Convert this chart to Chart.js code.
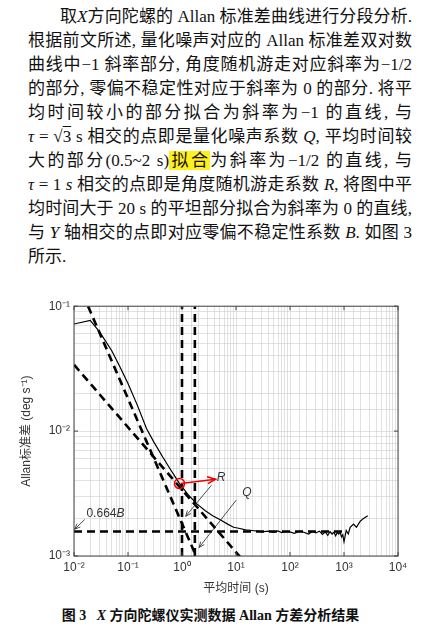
<!DOCTYPE html>
<html><head><meta charset="utf-8">
<script src="https://cdn.jsdelivr.net/npm/chart.js@4"></script>
<style>
html,body{margin:0;padding:0;background:#fff;width:421px;height:637px;overflow:hidden}
#txt{position:absolute;left:28px;top:5px;width:384px;font-family:"Liberation Serif","Noto Sans CJK SC",serif;font-size:17px;line-height:24px;color:#111}
#txt div{text-align:justify;text-align-last:justify;white-space:nowrap}
#txt div.last{text-align-last:left}
.hl{background:#ffef1a}
i{font-style:italic}
#cv{position:absolute;left:15px;top:295px}
#cap{position:absolute;left:0;width:421px;top:604px;text-align:center;font-family:"Liberation Serif","Noto Sans CJK SC",serif;font-weight:bold;font-size:14px;color:#111}
</style></head><body>
<div id="txt">
<div style="padding-left:32px">取<i>X</i>方向陀螺的 Allan 标准差曲线进行分段分析.</div>
<div>根据前文所述, 量化噪声对应的 Allan 标准差双对数</div>
<div>曲线中−1 斜率部分, 角度随机游走对应斜率为−1/2</div>
<div>的部分, 零偏不稳定性对应于斜率为 0 的部分. 将平</div>
<div>均时间较小的部分拟合为斜率为−1 的直线, 与</div>
<div><i>τ</i> = √<span style="text-decoration:overline">3</span> s 相交的点即是量化噪声系数 <i>Q</i>, 平均时间较</div>
<div>大的部分(0.5~2 s)<span class="hl">拟合</span>为斜率为−1/2 的直线, 与</div>
<div><i>τ</i> = 1 <i>s</i> 相交的点即是角度随机游走系数 <i>R</i>, 将图中平</div>
<div>均时间大于 20 s 的平坦部分拟合为斜率为 0 的直线,</div>
<div>与 <i>Y</i> 轴相交的点即对应零偏不稳定性系数 <i>B</i>. 如图 3</div>
<div class="last">所示.</div>
</div>
<canvas id="cv" width="400" height="305" style="width:400px;height:305px"></canvas>
<div id="cap">图 3 &nbsp;&nbsp;<i>X</i> 方向陀螺仪实测数据 Allan 方差分析结果</div>
<script>
const tau=[0.01,0.02,0.03,0.05,0.07,0.1,0.15,0.22,0.3,0.44,0.6,0.9,1.3,1.84,2.7,3.7,5,7,9,11.8,15,20,25,30,40,50,60,70,80,100,120,150,180,220,260,300,350,400,450,500,550,600,650,700,750,800,850,900,950,1000,1100,1200,1300,1500,1700,2000,2300,2750];
const sigma=[0.072,0.077,0.062,0.044,0.033,0.024,0.016,0.0105,0.0082,0.0062,0.005,0.0038,0.0031,0.00264,0.0023,0.0021,0.00196,0.0018,0.0017,0.00166,0.00162,0.0016,0.00158,0.00156,0.00158,0.00155,0.00159,0.00154,0.00157,0.00156,0.00152,0.00158,0.00155,0.0015,0.00157,0.00153,0.00158,0.00149,0.00156,0.00146,0.00157,0.0015,0.00155,0.00145,0.00154,0.0015,0.00155,0.00142,0.00148,0.0013,0.0016,0.0015,0.0017,0.0018,0.0017,0.0019,0.002,0.0021];
const fitQx=[0.0182,1.82], fitQy=[0.1,0.001];
const fitRx=[0.01,12.5], fitRy=[0.034,0.00096];
const fitBx=[0.01,1000], fitBy=[0.00157,0.00157];
const vline1x=[1,1], vline2x=[1.73,1.73], vlineY=[0.001,0.1];
const xTicks=[0.01,0.1,1,10,100,1000,10000], xTickLabels=["10⁻²","10⁻¹","10⁰","10¹","10²","10³","10⁴"];
const yTicks=[0.001,0.01,0.1], yTickLabels=["10⁻³","10⁻²","10⁻¹"];
const pts=(xs,ys)=>xs.map((x,i)=>({x,y:ys[i]}));
const dash={borderColor:'#000',borderWidth:2.6,borderDash:[8,5],pointRadius:0,showLine:true,fill:false};
const arrow=(ctx,x1,y1,x2,y2,col,w,h)=>{ctx.strokeStyle=col;ctx.lineWidth=w;ctx.beginPath();ctx.moveTo(x1,y1);ctx.lineTo(x2,y2);ctx.stroke();
 const a=Math.atan2(y2-y1,x2-x1);ctx.beginPath();ctx.moveTo(x2-h*Math.cos(a-0.4),y2-h*Math.sin(a-0.4));ctx.lineTo(x2,y2);ctx.lineTo(x2-h*Math.cos(a+0.4),y2-h*Math.sin(a+0.4));ctx.stroke();};
const deco={id:'deco',afterDraw(c){const ctx=c.ctx,X=c.scales.x,Y=c.scales.y,a=c.chartArea;ctx.save();
 ctx.strokeStyle='#444';ctx.lineWidth=1;ctx.strokeRect(a.left,a.top,a.right-a.left,a.bottom-a.top);
 xTicks.forEach(v=>{const p=X.getPixelForValue(v);ctx.beginPath();ctx.moveTo(p,a.bottom);ctx.lineTo(p,a.bottom-4);ctx.moveTo(p,a.top);ctx.lineTo(p,a.top+4);ctx.stroke();});
 yTicks.forEach(v=>{const p=Y.getPixelForValue(v);ctx.beginPath();ctx.moveTo(a.left,p);ctx.lineTo(a.left+4,p);ctx.moveTo(a.right,p);ctx.lineTo(a.right-4,p);ctx.stroke();});
 const px=v=>X.getPixelForValue(v),py=v=>Y.getPixelForValue(v);
 ctx.strokeStyle='#e00';ctx.lineWidth=1.5;ctx.beginPath();ctx.arc(px(0.9),py(0.0038),5,0,Math.PI*2);ctx.stroke();
 arrow(ctx,px(0.95),py(0.0038),px(4.2),py(0.00412),'#e00',1.5,9);
 ctx.fillStyle='#333';ctx.font='italic 12px "Liberation Sans"';ctx.textBaseline='middle';
 ctx.fillText('R',px(4.4),py(0.0042));ctx.fillText('Q',px(13),py(0.0032));
 ctx.font='12px "Liberation Sans"';ctx.fillText('0.664',px(0.017),py(0.0022));
 const w=ctx.measureText('0.664').width;ctx.font='italic 12px "Liberation Sans"';ctx.fillText('B',px(0.017)+w,py(0.0022));
 arrow(ctx,px(3.5),py(0.00368),px(1.17),py(0.00208),'#222',0.8,6);
 arrow(ctx,px(10.1),py(0.0028),px(2.07),py(0.00117),'#222',0.8,6);
 arrow(ctx,px(0.0158),py(0.00196),px(0.0103),py(0.00164),'#222',0.8,6);
 ctx.restore();}};
new Chart(document.getElementById('cv'),{type:'scatter',
 data:{datasets:[
  {data:pts(tau,sigma),borderColor:'#000',borderWidth:1.2,pointRadius:0,showLine:true,fill:false},
  {...dash,data:pts(fitQx,fitQy)},{...dash,data:pts(fitRx,fitRy)},{...dash,data:pts(fitBx,fitBy)},
  {...dash,data:pts(vline1x,vlineY)},{...dash,data:pts(vline2x,vlineY)}]},
 options:{responsive:false,animation:false,devicePixelRatio:1,
  layout:{padding:{top:10,right:17,left:0,bottom:0}},
  plugins:{legend:{display:false},tooltip:{enabled:false}},
  scales:{
   x:{type:'logarithmic',min:0.01,max:10000,
     afterFit(s){s.height=44;},
     afterBuildTicks(s){s.ticks=s.ticks.filter(t=>t.value<=10000);},
     grid:{color:'#ccc',lineWidth:0.6,borderDash:[2,2],drawTicks:false},border:{display:false},
     ticks:{color:'#333',font:{family:'Liberation Sans',size:12},padding:4,autoSkip:false,maxRotation:0,
       callback(v){const i=xTicks.findIndex(t=>Math.abs(Math.log10(t)-Math.log10(v))<1e-6);return i>=0?xTickLabels[i]:'';}},
     title:{display:true,text:'平均时间 (s)',color:'#333',font:{family:'Liberation Sans, Noto Sans CJK SC',size:12},padding:{top:0}}},
   y:{type:'logarithmic',min:0.001,max:0.1,
     afterFit(s){s.width=59;},
     grid:{color:'#ccc',lineWidth:0.6,borderDash:[2,2],drawTicks:false},border:{display:false},
     ticks:{color:'#333',font:{family:'Liberation Sans',size:12},padding:4,autoSkip:false,
       callback(v){const i=yTicks.findIndex(t=>Math.abs(Math.log10(t)-Math.log10(v))<1e-6);return i>=0?yTickLabels[i]:'';}},
     title:{display:true,text:'Allan标准差 (deg s⁻¹)',color:'#333',font:{family:'Liberation Sans, Noto Sans CJK SC',size:12},padding:{bottom:2}}}}},
 plugins:[deco]});
</script></body></html>
